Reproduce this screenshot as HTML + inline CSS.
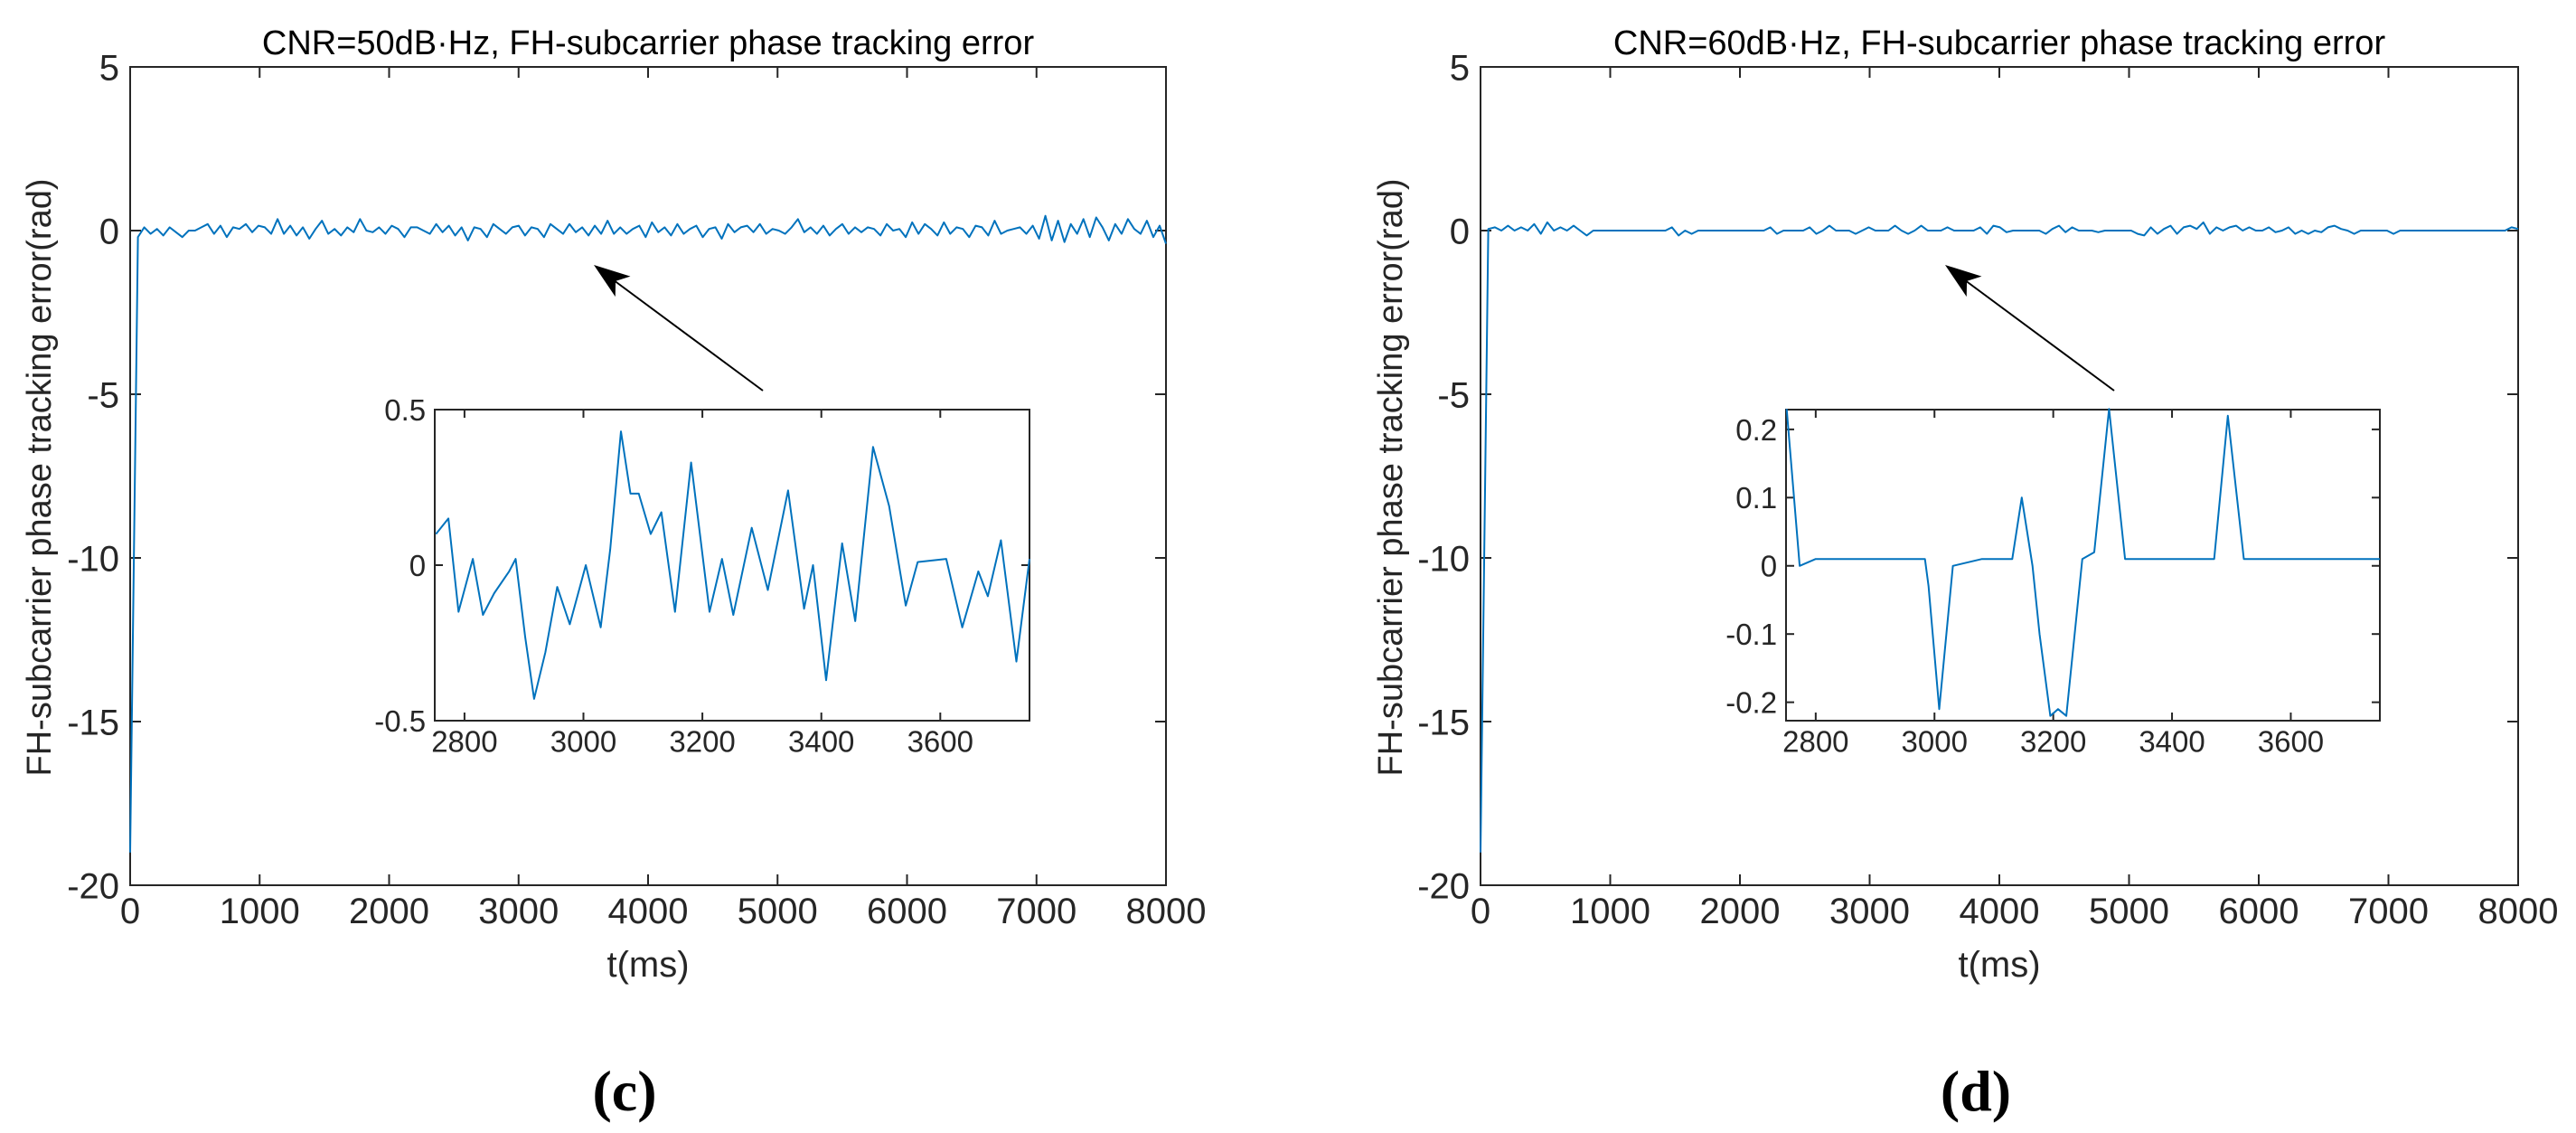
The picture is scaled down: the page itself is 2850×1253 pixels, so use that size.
<!DOCTYPE html>
<html><head><meta charset="utf-8"><style>
html,body{margin:0;padding:0;background:#fff;}
svg{display:block;font-family:"Liberation Sans",sans-serif;}
</style></head><body>
<svg id="fig" width="2850" height="1253" viewBox="0 0 2850 1253" xmlns="http://www.w3.org/2000/svg"></svg>
<script>
// ---- data ----
const mainTicksX = [0,1000,2000,3000,4000,5000,6000,7000,8000];
const mainTicksY = [5,0,-5,-10,-15,-20];
const insetTicksX = [2800,3000,3200,3400,3600];
const insetLTicksY = [0.5,0,-0.5];
const insetRTicksY = [0.2,0.1,0,-0.1,-0.2];
const mainEndMs = 8000;
const mainLeftValues = [-19,-0.2,0.1,-0.1,0.05,-0.15,0.1,-0.05,-0.2,0,0,0.1,0.2,-0.1,0.15,-0.2,0.1,0.05,0.2,-0.05,0.15,0.1,-0.1,0.35,-0.1,0.15,-0.15,0.1,-0.25,0.05,0.3,-0.1,0.05,-0.15,0.1,-0.05,0.35,0,-0.05,0.1,-0.1,0.15,0.05,-0.2,0.1,0.1,0,-0.1,0.2,-0.05,0.15,-0.15,0.1,-0.3,0.1,0.05,-0.2,0.2,0.05,-0.1,0.1,0.15,-0.15,0.1,0.05,-0.2,0.2,0.05,-0.1,0.2,-0.05,0.1,-0.15,0.15,-0.1,0.3,-0.1,0.1,-0.1,0.05,0.15,-0.2,0.25,-0.05,0.1,-0.15,0.2,-0.1,0.05,0.15,-0.2,0.05,0.1,-0.25,0.2,-0.05,0.1,0.15,-0.05,0.2,-0.1,0.05,0,-0.1,0.1,0.35,-0.05,0.1,-0.1,0.15,-0.15,0.05,0.2,-0.1,0.1,-0.05,0.1,0.05,-0.15,0.2,0,0.05,-0.2,0.25,-0.1,0.2,0.05,-0.15,0.25,-0.1,0.1,0.05,-0.2,0.15,0.1,-0.15,0.3,-0.1,0,0.05,0.1,-0.1,0.15,-0.25,0.45,-0.3,0.3,-0.35,0.2,-0.1,0.35,-0.2,0.4,0.1,-0.3,0.2,-0.1,0.35,0.05,-0.1,0.3,-0.2,0.15,-0.4];
const mainRightValues = [-19,0.05,0.1,0,0.15,0,0.1,0,0.2,-0.1,0.25,0,0.1,0,0.15,0,-0.15,0,0,0,0,0,0,0,0,0,0,0,0,0.1,-0.15,0,-0.1,0,0,0,0,0,0,0,0,0,0,0,0.1,-0.1,0,0,0,0,0.1,-0.1,0,0.15,0,0,0,-0.1,0,0.1,0,0,0,0.15,0,-0.1,0,0.15,0,0,0,0.1,0,0,0,0,0.1,-0.1,0.15,0.1,-0.05,0,0,0,0,0,-0.1,0.05,0.15,-0.05,0.1,0,0,0,-0.05,0,0,0,0,0,-0.1,-0.15,0.1,-0.1,0.05,0.15,-0.1,0.1,0.15,0.05,0.25,-0.1,0.1,0,0.1,0.15,0,0.1,0,0,0.1,-0.05,0,0.1,-0.1,0,-0.1,0,-0.05,0.1,0.15,0.05,0,-0.1,0,0,0,0,0,-0.1,0,0,0,0,0,0,0,0,0,0,0,0,0,0,0,0,0,0.1,0.05];
const insetLT = [2752,2773,2790,2814,2831,2850,2875,2886,2902,2917,2936,2956,2977,3004,3029,3045,3063,3079,3093,3113,3131,3154,3181,3212,3233,3252,3283,3310,3344,3371,3386,3408,3435,3457,3487,3514,3542,3562,3610,3637,3664,3680,3702,3728,3750];
const insetLV = [0.1,0.15,-0.15,0.02,-0.16,-0.09,-0.02,0.02,-0.23,-0.43,-0.28,-0.07,-0.19,0,-0.2,0.05,0.43,0.23,0.23,0.1,0.17,-0.15,0.33,-0.15,0.02,-0.16,0.12,-0.08,0.24,-0.14,0,-0.37,0.07,-0.18,0.38,0.19,-0.13,0.01,0.02,-0.2,-0.02,-0.1,0.08,-0.31,0.02];
const insetRT = [2751,2773,2800,2850,2900,2950,2984,2990,3008,3031,3080,3131,3147,3165,3177,3195,3208,3222,3249,3269,3294,3321,3400,3471,3494,3521,3600,3700,3750];
const insetRV = [0.23,0.0,0.01,0.01,0.01,0.01,0.01,-0.03,-0.21,0.0,0.01,0.01,0.1,0.0,-0.1,-0.22,-0.21,-0.22,0.01,0.02,0.23,0.01,0.01,0.01,0.22,0.01,0.01,0.01,0.01];

const NS = "http://www.w3.org/2000/svg";
const svg = document.getElementById('fig');
function mk(tag, attrs, parent){
  const e = document.createElementNS(NS, tag);
  for (const k in attrs) e.setAttribute(k, attrs[k]);
  (parent||svg).appendChild(e);
  return e;
}
function scale(d0,d1,p0,p1){ return v => p0 + (v-d0)/(d1-d0)*(p1-p0); }

function drawAxes(g, box, xs, ys, xt, yt, fs, tickLen, xfmt, yfmt){
  const frame = mk('rect',{x:box.l,y:box.t,width:box.r-box.l,height:box.b-box.t,fill:'none',stroke:'#262626','stroke-width':2},g);
  
  
  xt.forEach(v=>{
    const x = xs(v);
    const t1 = mk('line',{x1:x,y1:box.b,x2:x,y2:box.b-tickLen,stroke:'#262626','stroke-width':2},g);
    
    
    const t2 = mk('line',{x1:x,y1:box.t,x2:x,y2:box.t+tickLen,stroke:'#262626','stroke-width':2},g);
    
    
    const lab = mk('text',{x:x,y:box.b+fs*1.05,'font-size':fs,'text-anchor':'middle',fill:'#262626'},g);
    lab.textContent = xfmt(v);
    
    
  });
  yt.forEach(v=>{
    const y = ys(v);
    const t1 = mk('line',{x1:box.l,y1:y,x2:box.l+tickLen,y2:y,stroke:'#262626','stroke-width':2},g);
    
    
    const t2 = mk('line',{x1:box.r,y1:y,x2:box.r-tickLen,y2:y,stroke:'#262626','stroke-width':2},g);
    
    
    const lab = mk('text',{x:box.l-fs*0.3,y:y+fs*0.36,'font-size':fs,'text-anchor':'end',fill:'#262626'},g);
    lab.textContent = yfmt(v);
    
    
  });
}
function drawLine(g, xsArr, ysArr, xs, ys, w, name){
  let d='';
  for (let i=0;i<xsArr.length;i++) d += (i?'L':'M')+xs(xsArr[i]).toFixed(1)+','+ys(ysArr[i]).toFixed(1);
  const p = mk('path',{d:d,fill:'none',stroke:'#0072BD','stroke-width':w,'stroke-linejoin':'round'},g);
  
  
}

function panel(cfg){
  const g = mk('g',{});
  
  
  const box = cfg.box;
  const xs = scale(0,8000,box.l,box.r), ys = scale(-20,5,box.b,box.t);
  drawAxes(g, box, xs, ys, mainTicksX, mainTicksY, 40, 12, v=>String(v), v=>String(v));
  const n = cfg.main.length;
  const tArr = cfg.main.map((v,i)=> i===0 ? 0 : 60 + (i-1)*(mainEndMs-60)/(n-2));
  drawLine(g, tArr, cfg.main, xs, ys, 2, 'main-series-line');
  const title = mk('text',{x:(box.l+box.r)/2,y:box.t-14,'font-size':38,'text-anchor':'middle',fill:'#000'},g);
  title.textContent = cfg.title;
  
  
  const xl = mk('text',{x:(box.l+box.r)/2,y:1080,'font-size':40,'text-anchor':'middle',fill:'#262626'},g);
  xl.textContent = 't(ms)';
  
  
  const yl = mk('text',{x:0,y:0,'font-size':38,'text-anchor':'middle',fill:'#262626',transform:'translate('+cfg.ylx+',528) rotate(-90)'},g);
  yl.textContent = 'FH-subcarrier phase tracking error(rad)';
  
  
  const a = cfg.arrow;
  const ln = mk('line',{x1:a[0],y1:a[1],x2:a[2]+14,y2:a[3]+11,stroke:'#000','stroke-width':2},g);
  
  
  const ang = Math.atan2(a[1]-a[3], a[0]-a[2]);
  const L=40, W=14;
  const bx=a[2]+L*Math.cos(ang), by=a[3]+L*Math.sin(ang);
  const px=-Math.sin(ang)*W, py=Math.cos(ang)*W;
  const head = mk('polygon',{points:a[2]+','+a[3]+' '+(bx+px)+','+(by+py)+' '+(a[2]+30*Math.cos(ang))+','+(a[3]+30*Math.sin(ang))+' '+(bx-px)+','+(by-py),fill:'#000'},g);
  
  
  const ib = cfg.ibox;
  const ig = mk('g',{},g);
  
  
  mk('rect',{x:ib.l,y:ib.t,width:ib.r-ib.l,height:ib.b-ib.t,fill:'#fff'},ig);
  const ixs = scale(2750,3750,ib.l,ib.r), iys = scale(cfg.iy[0],cfg.iy[1],ib.b,ib.t);
  drawAxes(ig, ib, ixs, iys, insetTicksX, cfg.iyt, 33, 9, v=>String(v), cfg.iyfmt);
  drawLine(ig, cfg.it, cfg.iv, ixs, iys, 2, 'inset-series-line');
  const cap = mk('text',{x:cfg.capx,y:1228,'font-size':64,'font-weight':'bold','text-anchor':'middle','font-family':'Liberation Serif, serif',fill:'#000'});
  cap.textContent = cfg.cap;
  
  
}

panel({name:'panel-c', box:{l:144,r:1290,t:74,b:979}, main:mainLeftValues,
  title:'CNR=50dB·Hz, FH-subcarrier phase tracking error', ylx:56,
  arrow:[844,432,657,293], ibox:{l:481,r:1139,t:453,b:797},
  iy:[-0.5,0.5], iyt:insetLTicksY, iyfmt:v=>String(v), it:insetLT, iv:insetLV, cap:'(c)', capx:691});
panel({name:'panel-d', box:{l:1638,r:2786,t:74,b:979}, main:mainRightValues,
  title:'CNR=60dB·Hz, FH-subcarrier phase tracking error', ylx:1551,
  arrow:[2339,432,2152,293], ibox:{l:1976,r:2633,t:453,b:797},
  iy:[-0.227,0.229], iyt:insetRTicksY, iyfmt:v=>String(v), it:insetRT, iv:insetRV, cap:'(d)', capx:2186});
</script>
</body></html>
